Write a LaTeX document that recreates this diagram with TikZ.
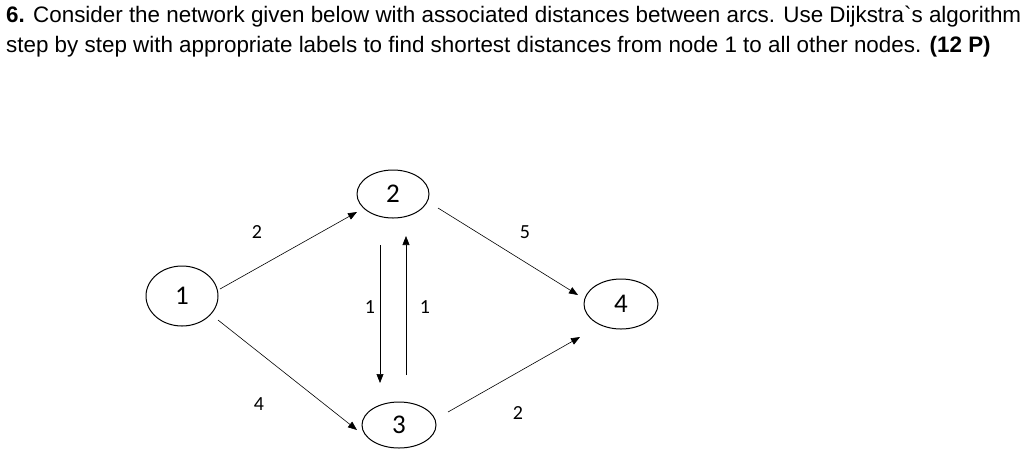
\documentclass[tikz,border=0pt]{standalone}
\usepackage{fontspec}
\setmainfont{Liberation Sans}
\newfontfamily\lab{Carlito}
\usetikzlibrary{shapes.geometric,arrows.meta}
\begin{document}
\begin{tikzpicture}[x=1pt,y=-1pt,
  nd/.style={ellipse,draw,line width=1pt,minimum width=72pt,minimum height=50pt,inner sep=0pt,font=\lab\fontsize{27}{27}\selectfont},
  ar/.style={-{Triangle[length=9pt,width=7pt]},line width=0.6pt},
  lb/.style={font=\lab\fontsize{20}{20}\selectfont}]
\useasboundingbox (0,0) rectangle (1024,459);
\node[anchor=base west,inner sep=0pt,font=\fontsize{22.4}{22.4}\selectfont] (t1) at (6,22) {\textbf{6.} Consider the network given below with associated distances between arcs. Use Dijkstra\textasciigrave s algorithm};
\node[anchor=base west,inner sep=0pt,font=\fontsize{22.4}{22.4}\selectfont] (t2) at (6,52) {step by step with appropriate labels to find shortest distances from node 1 to all other nodes. \textbf{(12 P)}};
\node[nd,minimum height=60pt] (n1) at (182,296) {1};
\node[nd,minimum height=48pt] (n2) at (393,194) {2};
\node[nd,minimum width=74pt,minimum height=46pt] (n3) at (399,425) {3};
\node[nd,minimum width=74pt] (n4) at (621,304) {4};
\coordinate (a1) at (220,289); \coordinate (a2) at (357,212);
\coordinate (b1) at (438,208); \coordinate (b2) at (578,295);
\coordinate (c1) at (218,320); \coordinate (c2) at (357,430);
\coordinate (d1) at (448,412); \coordinate (d2) at (580,337);
\coordinate (e1) at (380,245); \coordinate (e2) at (380,383);
\coordinate (f1) at (406,375); \coordinate (f2) at (406,236);
\draw[ar] (a1) -- (a2);
\draw[ar] (b1) -- (b2);
\draw[ar] (c1) -- (c2);
\draw[ar] (d1) -- (d2);
\draw[ar] (e1) -- (e2);
\draw[ar] (f1) -- (f2);
\node[lb] (l1) at (257,232) {2};
\node[lb] (l2) at (525,232) {5};
\node[lb] (l3) at (259,404) {4};
\node[lb] (l4) at (518,413) {2};
\node[lb] (l5) at (370,307) {1};
\node[lb] (l6) at (425,307) {1};
\end{tikzpicture}
\end{document}
